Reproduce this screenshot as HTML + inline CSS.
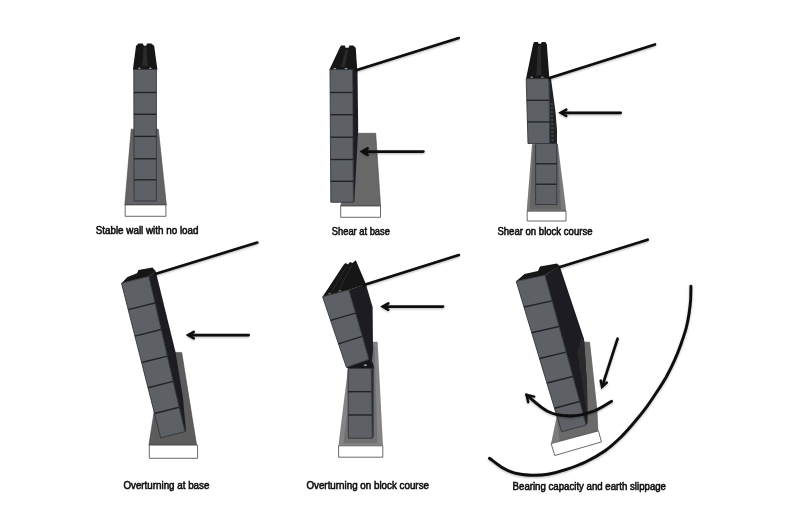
<!DOCTYPE html>
<html lang="en">
<head>
<meta charset="utf-8">
<title>Retaining wall failure modes</title>
<style>
html,body{margin:0;padding:0;background:#fff;}
body{width:800px;height:530px;overflow:hidden;}
svg{display:block;}
text{font-family:"Liberation Sans",sans-serif;fill:#101010;stroke:#101010;stroke-width:0.58;}
</style>
</head>
<body>
<svg width="800" height="530" viewBox="0 0 800 530">
<defs><filter id="soft" x="0" y="0" width="800" height="530" filterUnits="userSpaceOnUse"><feGaussianBlur stdDeviation="0.45"/></filter><filter id="inkshadow" x="0" y="0" width="800" height="530" filterUnits="userSpaceOnUse"><feGaussianBlur in="SourceGraphic" stdDeviation="0.4" result="b"/><feGaussianBlur in="SourceAlpha" stdDeviation="1.0" result="s"/><feOffset in="s" dx="0.4" dy="1.3" result="so"/><feComponentTransfer in="so" result="sh"><feFuncA type="linear" slope="0.3"/></feComponentTransfer><feMerge><feMergeNode in="sh"/><feMergeNode in="b"/></feMerge></filter></defs>
<rect width="800" height="530" fill="#ffffff"/>
<g filter="url(#soft)">
<g id="p1">
<polygon points="131.2,129.2 158.3,129.2 166.4,204.9 124.8,204.9" fill="#646465" stroke="#4a4a4a" stroke-width="0.6" stroke-linejoin="round" />
<polygon points="125.2,204.9 165.9,204.9 165.9,216.3 125.2,216.3" fill="#ffffff" stroke="#444444" stroke-width="0.8" stroke-linejoin="round" />
<polygon points="132.9,69.8 136.0,46.0 138.4,43.4 142.8,43.4 143.8,45.8 146.2,45.8 147.0,43.4 151.4,43.4 154.2,46.0 157.4,69.8" fill="#141414" />
<polygon points="143.6,47.0 146.4,47.0 147.8,66.5 142.2,66.5" fill="#2b2b2d" />
<polygon points="133.8,69.5 156.4,69.5 156.4,201.0 134.1,201.0" fill="#5d6165" stroke="#33363a" stroke-width="0.9" stroke-linejoin="round" />
<line x1="133.9" y1="92.5" x2="156.4" y2="92.5" stroke="#222426" stroke-width="1.4" stroke-linecap="butt"/>
<line x1="133.9" y1="114.3" x2="156.4" y2="114.3" stroke="#222426" stroke-width="1.4" stroke-linecap="butt"/>
<line x1="134.0" y1="136.4" x2="156.4" y2="136.4" stroke="#222426" stroke-width="1.4" stroke-linecap="butt"/>
<line x1="134.0" y1="158.8" x2="156.4" y2="158.8" stroke="#222426" stroke-width="1.4" stroke-linecap="butt"/>
<line x1="134.1" y1="179.8" x2="156.4" y2="179.8" stroke="#222426" stroke-width="1.4" stroke-linecap="butt"/>
<ellipse cx="139.4" cy="68.2" rx="1.5" ry="0.8" fill="#8c8c8c"/><ellipse cx="150.3" cy="68.2" rx="1.5" ry="0.8" fill="#8c8c8c"/>
<text x="95.7" y="233.8" font-size="10.4" textLength="102.8" lengthAdjust="spacingAndGlyphs">Stable wall with no load</text>
</g>
<g id="p2">
<polygon points="356.0,133.3 375.7,133.3 380.6,206.0 340.7,206.0" fill="#676767" stroke="#4c4c4c" stroke-width="0.6" stroke-linejoin="round" />
<polygon points="340.7,206.0 380.5,206.0 380.5,217.3 340.7,217.3" fill="#ffffff" stroke="#444444" stroke-width="0.8" stroke-linejoin="round" />
<polygon points="329.3,70.0 339.8,47.6 341.0,45.6 344.8,45.6 345.6,47.8 348.6,47.8 349.4,45.6 353.2,45.6 355.7,47.8 357.3,70.4" fill="#141414" />
<polygon points="345.6,49.5 348.2,49.5 345.0,67.0 340.8,67.0" fill="#29292b" />
<polygon points="352.5,69.6 357.5,69.6 358.2,130.0 356.0,170.0 354.3,202.0 353.4,202.2" fill="#1e1e20" />
<polygon points="330.0,69.6 352.5,69.6 353.4,202.2 330.8,202.2" fill="#5d6165" stroke="#33363a" stroke-width="0.9" stroke-linejoin="round" />
<line x1="330.1" y1="92.5" x2="352.7" y2="92.5" stroke="#222426" stroke-width="1.4" stroke-linecap="butt"/>
<line x1="330.3" y1="114.7" x2="352.8" y2="114.7" stroke="#222426" stroke-width="1.4" stroke-linecap="butt"/>
<line x1="330.4" y1="137.2" x2="353.0" y2="137.2" stroke="#222426" stroke-width="1.4" stroke-linecap="butt"/>
<line x1="330.5" y1="159.5" x2="353.1" y2="159.5" stroke="#222426" stroke-width="1.4" stroke-linecap="butt"/>
<line x1="330.7" y1="181.3" x2="353.3" y2="181.3" stroke="#222426" stroke-width="1.4" stroke-linecap="butt"/>
<ellipse cx="334.8" cy="68.6" rx="1.5" ry="0.8" fill="#8c8c8c"/><ellipse cx="346" cy="68.6" rx="1.5" ry="0.8" fill="#8c8c8c"/>
<text x="331.8" y="234.5" font-size="10.4" textLength="58.1" lengthAdjust="spacingAndGlyphs">Shear at base</text>
</g>
<g id="p3">
<polygon points="532.0,144.0 557.8,144.0 566.3,211.3 526.7,211.3" fill="#7a7a7a" />
<polygon points="533.2,145.0 557.5,145.0 561.0,209.6 529.6,209.6" fill="#656566" />
<polygon points="527.2,211.2 566.0,211.2 566.0,221.0 527.2,221.0" fill="#ffffff" stroke="#444444" stroke-width="0.8" stroke-linejoin="round" />
<polygon points="535.6,143.5 556.8,143.5 556.8,204.5 535.6,204.5" fill="#5d6165" stroke="#33363a" stroke-width="0.9" stroke-linejoin="round" />
<line x1="535.6" y1="163.8" x2="556.8" y2="163.8" stroke="#222426" stroke-width="1.4" stroke-linecap="butt"/>
<line x1="535.6" y1="184.2" x2="556.8" y2="184.2" stroke="#222426" stroke-width="1.4" stroke-linecap="butt"/>
<polygon points="526.0,78.9 533.1,44.3 534.2,42.0 537.8,42.0 538.6,43.8 541.0,43.8 541.8,42.0 545.4,42.0 546.8,44.3 549.4,78.9" fill="#141414" />
<polygon points="537.8,45.5 540.9,45.5 541.4,75.5 536.3,75.5" fill="#2a2a2c" />
<polygon points="549.0,78.7 551.0,78.7 555.5,112.0 557.0,130.0 557.0,143.5 549.6,143.5" fill="#232325" />
<polygon points="526.2,78.7 549.0,78.7 549.6,143.5 528.0,143.5" fill="#5d6165" stroke="#33363a" stroke-width="0.9" stroke-linejoin="round" />
<line x1="526.8" y1="100.3" x2="549.2" y2="100.3" stroke="#222426" stroke-width="1.4" stroke-linecap="butt"/>
<line x1="527.4" y1="121.9" x2="549.4" y2="121.9" stroke="#222426" stroke-width="1.4" stroke-linecap="butt"/>
<line x1="550.7" y1="104.0" x2="552.7" y2="104.0" stroke="#8a8a8a" stroke-width="0.6" stroke-linecap="butt"/>
<line x1="550.8" y1="108.0" x2="552.8" y2="108.0" stroke="#8a8a8a" stroke-width="0.6" stroke-linecap="butt"/>
<line x1="550.8" y1="112.0" x2="553.0" y2="112.0" stroke="#8a8a8a" stroke-width="0.6" stroke-linecap="butt"/>
<line x1="550.9" y1="116.0" x2="553.1" y2="116.0" stroke="#8a8a8a" stroke-width="0.6" stroke-linecap="butt"/>
<line x1="551.0" y1="120.0" x2="553.2" y2="120.0" stroke="#8a8a8a" stroke-width="0.6" stroke-linecap="butt"/>
<line x1="551.1" y1="124.0" x2="553.3" y2="124.0" stroke="#8a8a8a" stroke-width="0.6" stroke-linecap="butt"/>
<line x1="551.2" y1="128.0" x2="553.4" y2="128.0" stroke="#8a8a8a" stroke-width="0.6" stroke-linecap="butt"/>
<line x1="551.2" y1="132.0" x2="553.6" y2="132.0" stroke="#8a8a8a" stroke-width="0.6" stroke-linecap="butt"/>
<line x1="551.3" y1="136.0" x2="553.7" y2="136.0" stroke="#8a8a8a" stroke-width="0.6" stroke-linecap="butt"/>
<line x1="551.4" y1="140.0" x2="553.8" y2="140.0" stroke="#8a8a8a" stroke-width="0.6" stroke-linecap="butt"/>
<ellipse cx="531.7" cy="77.2" rx="1.3" ry="0.8" fill="#8c8c8c"/><ellipse cx="542.4" cy="77.2" rx="1.3" ry="0.8" fill="#8c8c8c"/>
<text x="497.4" y="235.1" font-size="10.4" textLength="95.1" lengthAdjust="spacingAndGlyphs">Shear on block course</text>
</g>
<g id="p4">
<polygon points="163.4,352.4 181.7,352.4 196.6,445.1 148.9,445.1" fill="#5b5b5c" stroke="#484848" stroke-width="0.6" stroke-linejoin="round" />
<polygon points="149.3,445.1 197.6,445.1 197.6,458.3 149.3,458.3" fill="#ffffff" stroke="#444444" stroke-width="0.8" stroke-linejoin="round" />
<polygon points="121.5,283.2 127.5,277.0 137.0,273.2 138.5,270.0 152.5,267.5 155.5,271.0 148.7,276.4" fill="#141414" />
<polygon points="148.7,276.4 155.5,270.5 175.5,352.0 183.0,398.0 186.0,431.0 184.9,431.7" fill="#1e1e20" />
<polygon points="121.5,283.2 148.7,276.4 184.9,431.7 160.7,437.8" fill="#5d6165" stroke="#33363a" stroke-width="0.9" stroke-linejoin="round" />
<line x1="128.2" y1="309.6" x2="154.9" y2="303.0" stroke="#222426" stroke-width="1.4" stroke-linecap="butt"/>
<line x1="134.9" y1="336.1" x2="161.1" y2="329.5" stroke="#222426" stroke-width="1.4" stroke-linecap="butt"/>
<line x1="141.6" y1="362.5" x2="167.3" y2="356.1" stroke="#222426" stroke-width="1.4" stroke-linecap="butt"/>
<line x1="148.0" y1="387.7" x2="173.2" y2="381.4" stroke="#222426" stroke-width="1.4" stroke-linecap="butt"/>
<line x1="154.5" y1="413.5" x2="179.2" y2="407.3" stroke="#222426" stroke-width="1.4" stroke-linecap="butt"/>
<text x="123.4" y="489.0" font-size="10.4" textLength="86.0" lengthAdjust="spacingAndGlyphs">Overturning at base</text>
</g>
<g id="p5">
<polygon points="351.3,341.8 377.6,341.8 383.0,445.8 338.4,445.8" fill="#848484" />
<polygon points="355.0,345.0 374.5,345.0 377.5,443.5 343.5,443.5" fill="#6f6f70" />
<polygon points="338.6,445.8 382.8,445.8 382.8,457.2 338.6,457.2" fill="#ffffff" stroke="#444444" stroke-width="0.8" stroke-linejoin="round" />
<polygon points="346.4,367.3 369.0,359.4 372.5,362.0 374.3,368.5 348.0,368.5" fill="#18181a" />
<ellipse cx="365.4" cy="365.2" rx="1.6" ry="0.9" fill="#9a9a9a"/>
<polygon points="371.3,368.5 373.6,366.0 373.6,437.0 372.3,438.2" fill="#2e2e30" />
<polygon points="348.0,368.5 371.3,368.5 372.3,438.2 348.4,438.2" fill="#5d6165" stroke="#33363a" stroke-width="0.9" stroke-linejoin="round" />
<line x1="348.1" y1="391.7" x2="371.6" y2="391.7" stroke="#222426" stroke-width="1.4" stroke-linecap="butt"/>
<line x1="348.3" y1="415.0" x2="372.0" y2="415.0" stroke="#222426" stroke-width="1.4" stroke-linecap="butt"/>
<polygon points="322.6,296.8 343.5,265.0 345.5,263.0 348.0,264.5 350.0,262.0 352.5,263.0 355.8,260.3 366.0,284.3 348.7,290.0" fill="#141414" />
<line x1="330.5" y1="293.5" x2="346.5" y2="266.5" stroke="#2c2c2e" stroke-width="1.0" stroke-linecap="butt"/>
<line x1="338.5" y1="291.5" x2="351.5" y2="265.0" stroke="#2c2c2e" stroke-width="1.0" stroke-linecap="butt"/>
<ellipse cx="329.5" cy="293.6" rx="1.4" ry="0.8" fill="#6a6a6a" transform="rotate(-15 329.5 293.6)"/><ellipse cx="340" cy="290.8" rx="1.4" ry="0.8" fill="#6a6a6a" transform="rotate(-15 340 290.8)"/>
<polygon points="348.7,290.0 365.8,284.0 372.6,307.0 373.0,350.0 371.5,366.0 369.0,359.4" fill="#1e1e20" />
<polygon points="322.6,296.8 348.7,290.0 369.0,359.4 346.4,367.3" fill="#5d6165" stroke="#33363a" stroke-width="0.9" stroke-linejoin="round" />
<line x1="330.5" y1="320.3" x2="355.5" y2="313.1" stroke="#222426" stroke-width="1.4" stroke-linecap="butt"/>
<line x1="338.5" y1="343.8" x2="362.2" y2="336.3" stroke="#222426" stroke-width="1.4" stroke-linecap="butt"/>
<text x="306.4" y="489.2" font-size="10.4" textLength="122.6" lengthAdjust="spacingAndGlyphs">Overturning on block course</text>
</g>
<g id="p6">
<polygon points="584.1,341.5 590.0,342.0 597.4,410.0 598.4,430.9 551.1,443.6 556.5,417.3" fill="#7c7c7c" />
<polygon points="584.3,342.0 589.6,342.4 596.8,409.0 597.6,431.1 559.5,441.3 557.0,417.5" fill="#6a6a6b" />
<polygon points="551.1,443.6 598.4,430.9 601.5,441.9 554.8,455.5" fill="#ffffff" stroke="#444444" stroke-width="0.8" stroke-linejoin="round" />
<polygon points="516.2,281.3 524.5,274.0 538.0,271.0 540.0,266.5 557.0,263.5 559.5,266.0 544.9,275.3" fill="#141414" />
<polygon points="544.9,275.3 559.5,265.5 584.0,339.0 587.0,385.0 587.6,423.0 586.2,425.0" fill="#1e1e20" />
<polygon points="581.5,336.0 584.0,339.0 587.0,385.0 587.5,418.0 577.6,353.0" fill="#2a2a2c" />
<polygon points="516.2,281.3 544.9,275.3 586.2,425.0 561.6,431.8" fill="#5d6165" stroke="#33363a" stroke-width="0.9" stroke-linejoin="round" />
<line x1="524.0" y1="307.0" x2="552.0" y2="300.9" stroke="#222426" stroke-width="1.4" stroke-linecap="butt"/>
<line x1="531.7" y1="332.8" x2="559.0" y2="326.5" stroke="#222426" stroke-width="1.4" stroke-linecap="butt"/>
<line x1="539.5" y1="358.5" x2="566.1" y2="352.1" stroke="#222426" stroke-width="1.4" stroke-linecap="butt"/>
<line x1="546.9" y1="383.0" x2="572.8" y2="376.5" stroke="#222426" stroke-width="1.4" stroke-linecap="butt"/>
<line x1="554.5" y1="408.2" x2="579.7" y2="401.5" stroke="#222426" stroke-width="1.4" stroke-linecap="butt"/>
<text x="512.6" y="489.9" font-size="10.4" textLength="153.4" lengthAdjust="spacingAndGlyphs">Bearing capacity and earth slippage</text>
</g>
</g>
<g id="ink" filter="url(#inkshadow)">
<line x1="357.0" y1="70.1" x2="458.8" y2="38.0" stroke="#0a0a0a" stroke-width="2.6" stroke-linecap="round"/>
<line x1="423.3" y1="151.6" x2="362.8" y2="151.6" stroke="#0a0a0a" stroke-width="2.7" stroke-linecap="round"/>
<polyline points="367.6,148.4 362.0,151.6 367.6,154.8" fill="none" stroke="#0a0a0a" stroke-width="2.5" stroke-linecap="round" stroke-linejoin="miter"/>
<line x1="549.5" y1="78.0" x2="655.0" y2="44.4" stroke="#0a0a0a" stroke-width="2.6" stroke-linecap="round"/>
<line x1="620.7" y1="112.8" x2="561.5" y2="112.8" stroke="#0a0a0a" stroke-width="2.7" stroke-linecap="round"/>
<polyline points="566.3,109.6 560.7,112.8 566.3,116.0" fill="none" stroke="#0a0a0a" stroke-width="2.5" stroke-linecap="round" stroke-linejoin="miter"/>
<line x1="156.0" y1="273.7" x2="257.3" y2="242.6" stroke="#0a0a0a" stroke-width="2.6" stroke-linecap="round"/>
<line x1="248.7" y1="335.1" x2="189.0" y2="335.1" stroke="#0a0a0a" stroke-width="2.7" stroke-linecap="round"/>
<polyline points="193.8,331.9 188.2,335.1 193.8,338.3" fill="none" stroke="#0a0a0a" stroke-width="2.5" stroke-linecap="round" stroke-linejoin="miter"/>
<line x1="364.7" y1="284.7" x2="458.9" y2="255.1" stroke="#0a0a0a" stroke-width="2.6" stroke-linecap="round"/>
<line x1="443.0" y1="306.6" x2="383.5" y2="306.6" stroke="#0a0a0a" stroke-width="2.7" stroke-linecap="round"/>
<polyline points="388.3,303.4 382.7,306.6 388.3,309.8" fill="none" stroke="#0a0a0a" stroke-width="2.5" stroke-linecap="round" stroke-linejoin="miter"/>
<line x1="560.0" y1="267.1" x2="647.7" y2="239.7" stroke="#0a0a0a" stroke-width="2.6" stroke-linecap="round"/>
<line x1="617.6" y1="338.7" x2="602.3" y2="386.1" stroke="#0a0a0a" stroke-width="2.7" stroke-linecap="round"/>
<polyline points="600.7,380.6 602.0,386.9 606.8,382.5" fill="none" stroke="#0a0a0a" stroke-width="2.5" stroke-linecap="round" stroke-linejoin="miter"/>
<path d="M611.6,401.2 C608.7,402.8 600.8,408.5 594.0,411.0 C587.2,413.5 578.7,415.9 571.0,416.0 C563.3,416.1 555.4,415.0 548.0,411.5 C540.6,408.0 530.2,397.8 526.6,395.0" fill="none" stroke="#0a0a0a" stroke-width="2.8" stroke-linecap="round"/>
<polyline points="528.2,402.2 526.6,394.9 534.2,396.6" fill="none" stroke="#0a0a0a" stroke-width="2.4" stroke-linecap="round"/>
<path d="M690.9,286.3 C690.9,288.6 690.9,295.5 690.6,300.0 C690.3,304.5 689.8,308.5 689.1,313.2 C688.4,317.9 687.5,323.0 686.2,328.0 C684.9,333.0 683.2,337.8 681.3,343.2 C679.4,348.6 677.1,354.6 674.6,360.2 C672.1,365.8 669.5,371.1 666.5,376.5 C663.5,381.9 660.2,386.9 656.6,392.3 C653.0,397.8 649.0,403.9 645.0,409.2 C641.0,414.5 636.7,419.6 632.6,424.3 C628.5,429.0 625.1,433.1 620.5,437.5 C615.9,441.9 610.5,447.0 604.7,451.0 C599.0,455.0 592.4,458.6 586.0,461.7 C579.6,464.8 572.7,467.3 566.4,469.4 C560.1,471.5 553.9,473.2 548.0,474.2 C542.1,475.2 536.5,475.4 531.0,475.2 C525.5,475.0 519.8,474.4 515.0,473.1 C510.2,471.8 506.2,470.0 502.0,467.5 C497.8,465.0 491.6,459.8 489.5,458.3" fill="none" stroke="#0a0a0a" stroke-width="2.9" stroke-linecap="round"/>
</g>
</svg>
</body>
</html>
